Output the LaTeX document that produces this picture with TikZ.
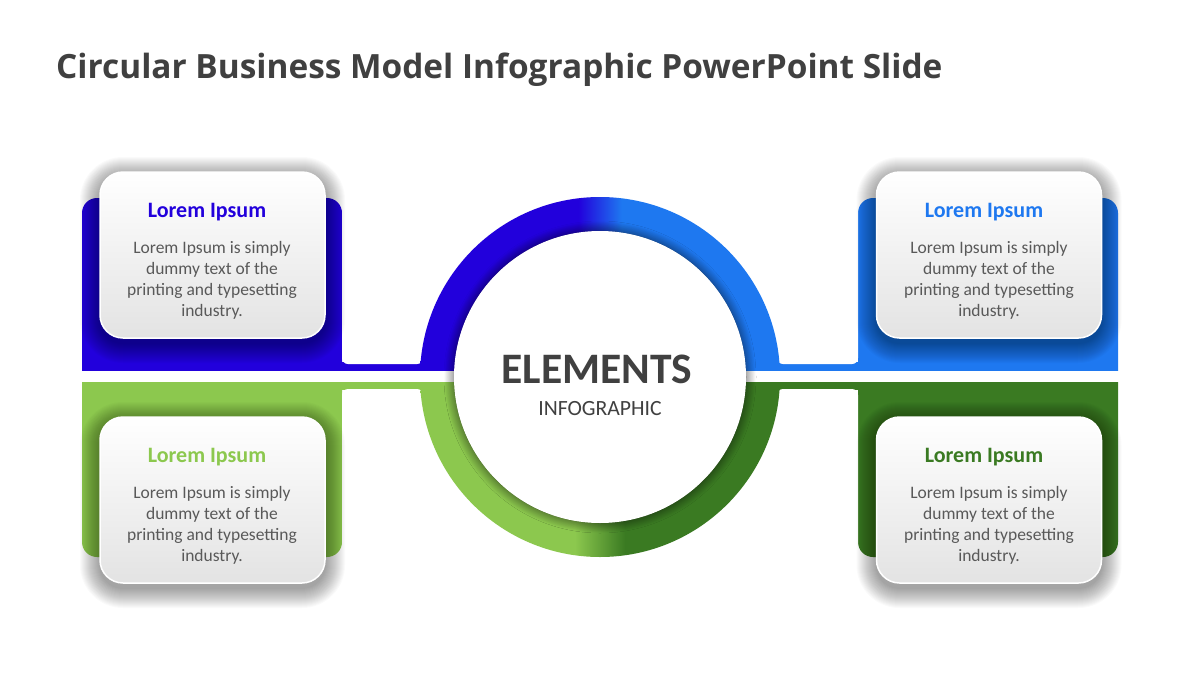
\documentclass[tikz,border=0pt]{standalone}
\usepackage{fontspec}
\setmainfont{Carlito}
\newfontfamily\titlefont{Open Sans}
\usetikzlibrary{shadows.blur}
\definecolor{cV}{RGB}{34,0,220}
\definecolor{cB}{RGB}{30,120,240}
\definecolor{cLG}{RGB}{140,200,78}
\definecolor{cDG}{RGB}{58,122,34}
\definecolor{txt}{RGB}{89,89,89}
\definecolor{ttl}{RGB}{64,64,64}
\pgfdeclarehorizontalshading{topring}{100bp}{color(0bp)=(cV); color(47bp)=(cV); color(53bp)=(cB); color(100bp)=(cB)}
\pgfdeclarehorizontalshading{botring}{100bp}{color(0bp)=(cLG); color(46.5bp)=(cLG); color(53.5bp)=(cDG); color(100bp)=(cDG)}
\tikzset{
  card/.style={rounded corners=23pt, minimum width=225pt, minimum height=166pt, inner sep=0pt,
    top color=white, bottom color=black!11, draw=white, line width=1.5pt},
  cshade/.style={fill=black, fill opacity=0.018},
  head/.style={font=\fontsize{22}{26}\selectfont\bfseries, inner sep=0pt, anchor=base},
  body/.style={font=\fontsize{17.5}{21}\selectfont, text=txt, align=center, inner sep=0pt, anchor=base},
  notch/.style={fill=white, rounded corners=6pt}
}
% soft shadow of a card centred at (#1,#2)
\newcommand\cardshadow[2]{%
  \foreach \i in {1,...,20}{%
    \pgfmathsetmacro\rr{23+\i}%
    \fill[cshade, rounded corners=\rr pt] (#1-112.5-\i,#2-83+5-\i) rectangle (#1+112.5+\i,#2+83+5+\i);
  }}
\begin{document}
\begin{tikzpicture}[x=1pt,y=-1pt]
\useasboundingbox[fill=white] (0,0) rectangle (1200,675);
\node[anchor=base west, inner sep=0pt, font=\titlefont\fontsize{33.4}{40}\selectfont\bfseries, text=ttl] (title) at (56,78) {Circular Business Model Infographic PowerPoint Slide};
% top-left quadrant
\begin{scope}
  \clip (0,0) rectangle (600,370.5);
  \fill[cV, rounded corners=15pt] (82,198) rectangle (342,430);
  \fill[cV] (330,362) rectangle (440,430);
  \fill[notch] (342,100) rectangle (423,364);
\end{scope}
% top-right quadrant
\begin{scope}
  \clip (600,0) rectangle (1200,370.5);
  \fill[cB, rounded corners=15pt] (858,198) rectangle (1118,430);
  \fill[cB] (760,362) rectangle (870,430);
  \fill[notch] (777,100) rectangle (858,364);
\end{scope}
% bottom-left quadrant
\begin{scope}
  \clip (0,382.5) rectangle (600,675);
  \fill[cLG, rounded corners=15pt] (82,320) rectangle (342,557);
  \fill[cLG] (330,320) rectangle (440,390);
  \fill[notch] (342,389) rectangle (423,650);
\end{scope}
% bottom-right quadrant
\begin{scope}
  \clip (600,382.5) rectangle (1200,675);
  \fill[cDG, rounded corners=15pt] (858,320) rectangle (1118,557);
  \fill[cDG] (760,320) rectangle (870,390);
  \fill[notch] (777,389) rectangle (858,650);
\end{scope}
% ring
\begin{scope}
  \clip (400,150) rectangle (800,370.5);
  \shade[shading=topring] (600,377) circle[radius=180];
\end{scope}
\begin{scope}
  \clip (400,382.5) rectangle (800,600);
  \shade[shading=botring] (600,377) circle[radius=180];
\end{scope}
\node[circle, fill=white, minimum size=292pt, inner sep=0pt,
  blur shadow={shadow xshift=0pt, shadow yshift=0pt, shadow blur radius=10pt, shadow blur steps=16, shadow opacity=70}] (core) at (600,377) {};
\node[anchor=base, inner sep=0pt, font=\fontsize{43.5}{50}\selectfont\bfseries, text=ttl] (elem) at (597,383.5) {ELEMENTS};
\node[anchor=base, inner sep=0pt, font=\fontsize{21.7}{26}\selectfont, text=ttl] (info) at (600,415) {INFOGRAPHIC};
% cards
\cardshadow{212.5}{255}
\cardshadow{989}{255}
\cardshadow{212.5}{500}
\cardshadow{989}{500}
\node[card] (c1) at (212.5,255) {};
\node[card] (c2) at (989,255) {};
\node[card] (c3) at (212.5,500) {};
\node[card] (c4) at (989,500) {};
\node[head, text=cV] (h1) at (207,217) {Lorem Ipsum};
\node[head, text=cB] (h2) at (984,217) {Lorem Ipsum};
\node[head, text=cLG] (h3) at (207,462) {Lorem Ipsum};
\node[head, text=cDG] (h4) at (984,462) {Lorem Ipsum};
\node[body] (b1) at (212,316) {Lorem Ipsum is simply\\dummy text of the\\printing and typesetting\\industry.};
\node[body] (b2) at (989,316) {Lorem Ipsum is simply\\dummy text of the\\printing and typesetting\\industry.};
\node[body] (b3) at (212,561) {Lorem Ipsum is simply\\dummy text of the\\printing and typesetting\\industry.};
\node[body] (b4) at (989,561) {Lorem Ipsum is simply\\dummy text of the\\printing and typesetting\\industry.};
\end{tikzpicture}
\end{document}
